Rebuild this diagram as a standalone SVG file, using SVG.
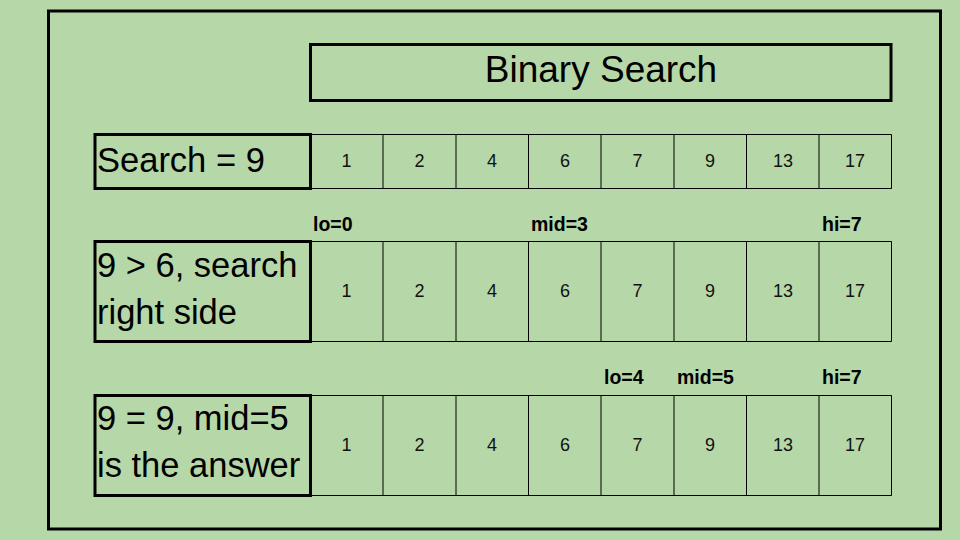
<svg xmlns="http://www.w3.org/2000/svg" width="960" height="540" viewBox="0 0 960 540">
<style>
.thick{fill:none;stroke:#000;stroke-width:3}
.cell{fill:none;stroke:#000;stroke-width:1}
.num{font-family:"Liberation Sans",Arial,sans-serif;font-size:18px;fill:#111;text-anchor:middle}
.lab{font-family:"Liberation Sans",Arial,sans-serif;font-size:34.5px;fill:#000}
.ptr{font-family:"Liberation Sans",Arial,sans-serif;font-size:19.5px;font-weight:bold;fill:#000}
</style>
<rect x="0" y="0" width="960" height="540" fill="#b6d7a8"/>
<rect id="frame" class="thick" x="48.5" y="11" width="892" height="518"/>
<g id="title">
<rect class="thick" x="310.5" y="44.5" width="580.5" height="56"/>
<text x="601" y="82" font-family="Liberation Sans, Arial, sans-serif" font-size="37" text-anchor="middle" fill="#000">Binary Search</text>
</g>
<g id="row1">
<rect class="thick" x="95" y="134.5" width="215.5" height="54"/>
<text class="lab" x="97" y="172">Search = 9</text>
<path class="cell" d="M310.5,134.5H891.5V188.5H310.5M383,134.5V188.5M456,134.5V188.5M528.5,134.5V188.5M601,134.5V188.5M674,134.5V188.5M746.5,134.5V188.5M819,134.5V188.5"/>
<text class="num" x="346.5" y="167">1</text>
<text class="num" x="419.5" y="167">2</text>
<text class="num" x="492" y="167">4</text>
<text class="num" x="565" y="167">6</text>
<text class="num" x="637.5" y="167">7</text>
<text class="num" x="710" y="167">9</text>
<text class="num" x="783" y="167">13</text>
<text class="num" x="855" y="167">17</text>
</g>
<g id="pointers1">
<text class="ptr" x="313" y="231">lo=0</text>
<text class="ptr" x="531" y="231">mid=3</text>
<text class="ptr" x="822" y="231">hi=7</text>
</g>
<g id="row2">
<rect class="thick" x="95" y="241.5" width="215.5" height="100"/>
<text class="lab" x="97" y="277">9 &gt; 6, search</text>
<text class="lab" x="97" y="324">right side</text>
<path class="cell" d="M310.5,241.5H891.5V341.5H310.5M383,241.5V341.5M456,241.5V341.5M528.5,241.5V341.5M601,241.5V341.5M674,241.5V341.5M746.5,241.5V341.5M819,241.5V341.5"/>
<text class="num" x="346.5" y="297">1</text>
<text class="num" x="419.5" y="297">2</text>
<text class="num" x="492" y="297">4</text>
<text class="num" x="565" y="297">6</text>
<text class="num" x="637.5" y="297">7</text>
<text class="num" x="710" y="297">9</text>
<text class="num" x="783" y="297">13</text>
<text class="num" x="855" y="297">17</text>
</g>
<g id="pointers2">
<text class="ptr" x="604" y="384">lo=4</text>
<text class="ptr" x="677" y="384">mid=5</text>
<text class="ptr" x="822" y="384">hi=7</text>
</g>
<g id="row3">
<rect class="thick" x="95" y="395.5" width="215.5" height="100"/>
<text class="lab" x="97" y="430">9 = 9, mid=5</text>
<text class="lab" x="97" y="477">is the answer</text>
<path class="cell" d="M310.5,395.5H891.5V495.5H310.5M383,395.5V495.5M456,395.5V495.5M528.5,395.5V495.5M601,395.5V495.5M674,395.5V495.5M746.5,395.5V495.5M819,395.5V495.5"/>
<text class="num" x="346.5" y="451">1</text>
<text class="num" x="419.5" y="451">2</text>
<text class="num" x="492" y="451">4</text>
<text class="num" x="565" y="451">6</text>
<text class="num" x="637.5" y="451">7</text>
<text class="num" x="710" y="451">9</text>
<text class="num" x="783" y="451">13</text>
<text class="num" x="855" y="451">17</text>
</g>
</svg>
